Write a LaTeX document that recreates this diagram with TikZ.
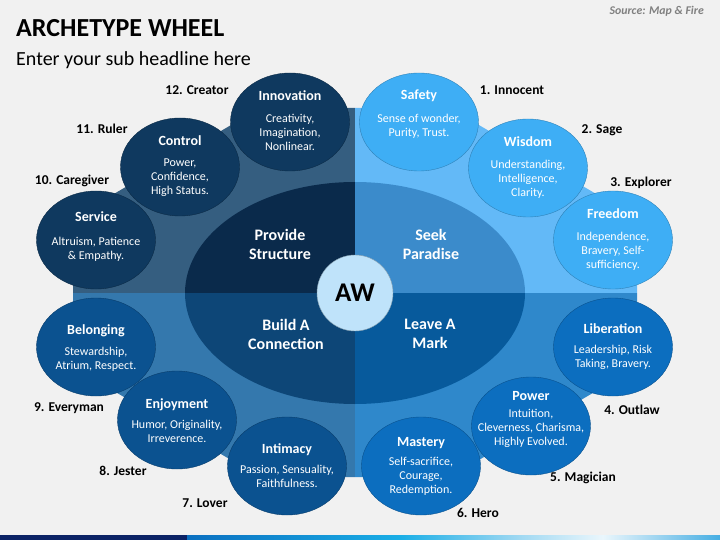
\documentclass[tikz,border=0pt]{standalone}
\usepackage{fontspec}
\setmainfont{Carlito}
\usepackage{tikz}
\usetikzlibrary{shapes.geometric}
\definecolor{pagebg}{HTML}{F1F1F1}
\definecolor{bgTL}{HTML}{355E80}
\definecolor{bgTR}{HTML}{63B9F7}
\definecolor{bgBL}{HTML}{3478AD}
\definecolor{bgBR}{HTML}{2F88CB}
\definecolor{inTL}{HTML}{0A2A4B}
\definecolor{inTR}{HTML}{3B8BCB}
\definecolor{inBL}{HTML}{0D4677}
\definecolor{inBR}{HTML}{075A9C}
\definecolor{cTL}{HTML}{0F395F}
\definecolor{cTR}{HTML}{3EAEF5}
\definecolor{cBL}{HTML}{0B5290}
\definecolor{cBR}{HTML}{0C6EBF}
\definecolor{hub}{HTML}{BFE3FA}
\definecolor{barnavy}{HTML}{0B2265}
\definecolor{barA}{HTML}{0A6FC0}
\definecolor{barB}{HTML}{1AAEE6}
\definecolor{barC}{HTML}{9ED8F2}
\definecolor{barD}{HTML}{EAF6FC}
\definecolor{barE}{HTML}{46AEE3}
\pgfdeclarehorizontalshading{barshade}{100bp}{color(0bp)=(barA); color(25bp)=(barA); color(45bp)=(barB); color(56bp)=(barC); color(64bp)=(barD); color(75bp)=(barE); color(100bp)=(barE)}
\tikzset{
	bubble/.style={ellipse, minimum width=119pt, minimum height=98pt, inner sep=0pt, fill=#1, draw=#1!75!black, line width=0.4pt},
	bubtext/.style={text=white, align=center, font=\fontsize{12}{14}\selectfont, inner sep=0pt, anchor=north, yshift=32pt},
	numlabel/.style={font=\fontsize{13.5}{16}\selectfont\bfseries, text=black, inner sep=0pt},
	quadlabel/.style={text=white, align=center, font=\fontsize{16}{19}\selectfont\bfseries, inner sep=0pt}
}
\newcommand{\bubhead}{\fontsize{14}{16}\selectfont\bfseries}

\begin{document}
\begin{tikzpicture}[x=1pt,y=-1pt]
	\fill[pagebg] (0,0) rectangle (720,540);
	\fill[barnavy] (0,535) rectangle (187,540);
	\shade[shading=barshade] (187,535) rectangle (720,540);

	\node[anchor=base west, inner sep=0pt, font=\fontsize{26}{30}\selectfont\bfseries] (title) at (16,37) {ARCHETYPE WHEEL};
	\node[anchor=base west, inner sep=0pt, font=\fontsize{20}{23}\selectfont] (subtitle) at (16,66) {Enter your sub headline here};
	\node[anchor=base east, inner sep=0pt, text=gray, font=\fontsize{11.8}{13}\selectfont\bfseries\itshape] (source) at (704,15) {Source: Map \& Fire};

	\begin{scope}
		\clip (260,108) -- (450,108) -- (637,218) -- (637,367) -- (450,477) -- (260,477) -- (73,367) -- (73,218) -- cycle;
		\fill[bgTL] (60,100) rectangle (355,293);
		\fill[bgTR] (355,100) rectangle (650,293);
		\fill[bgBL] (60,293) rectangle (355,490);
		\fill[bgBR] (355,293) rectangle (650,490);
	\end{scope}
	\begin{scope}
		\clip (355,293) ellipse [x radius=170, y radius=111];
		\fill[inTL] (180,180) rectangle (355,293);
		\fill[inTR] (355,180) rectangle (530,293);
		\fill[inBL] (180,293) rectangle (355,410);
		\fill[inBR] (355,293) rectangle (530,410);
	\end{scope}

	\node[quadlabel] (structure) at (280,244) {Provide\\Structure};
	\node[quadlabel] (paradise) at (431,244) {Seek\\Paradise};
	\node[quadlabel] (connection) at (286,334) {Build A\\Connection};
	\node[quadlabel] (mark) at (430,334) {Leave A\\Mark};

	\node[circle, minimum size=76pt, inner sep=0pt, fill=hub, draw=hub!70!black, line width=0.4pt, font=\fontsize{27}{30}\selectfont\bfseries] (hub) at (355,293) {AW};

	\node[bubble=cTL] (innovation) at (290,122) {};
	\node[bubble=cTL] (control) at (180,167) {};
	\node[bubble=cTL] (service) at (96,240) {};
	\node[bubble=cBL] (belonging) at (96,347) {};
	\node[bubble=cBL] (enjoyment) at (177,420) {};
	\node[bubble=cBL] (intimacy) at (287,466) {};
	\node[bubble=cBR] (mastery) at (421,466) {};
	\node[bubble=cBR] (power) at (531,426) {};
	\node[bubble=cBR] (liberation) at (613,347) {};
	\node[bubble=cTR] (freedom) at (613,240) {};
	\node[bubble=cTR] (wisdom) at (528,168) {};
	\node[bubble=cTR] (safety) at (419,122) {};

	\node[bubtext] (innovationtxt) at (innovation) {{\bubhead Innovation}\\[8pt]Creativity,\\Imagination,\\Nonlinear.};
	\node[bubtext] (controltxt) at (control) {{\bubhead Control}\\[7pt]Power,\\Confidence,\\High Status.};
	\node[bubtext, yshift=-3.5pt] (servicetxt) at (service) {{\bubhead Service}\\[10pt]Altruism, Patience\\\& Empathy.};
	\node[bubtext, yshift=-9.5pt] (belongingtxt) at (belonging) {{\bubhead Belonging}\\[7pt]Stewardship,\\Atrium, Respect.};
	\node[bubtext, yshift=-10.5pt] (enjoymenttxt) at (enjoyment) {{\bubhead Enjoyment}\\[6pt]Humor, Originality,\\Irreverence.};
	\node[bubtext, yshift=-9.5pt] (intimacytxt) at (intimacy) {{\bubhead Intimacy}\\[6pt]Passion, Sensuality,\\Faithfulness.};
	\node[bubtext, yshift=-3.5pt] (masterytxt) at (mastery) {{\bubhead Mastery}\\[5pt]Self-sacrifice,\\Courage,\\Redemption.};
	\node[bubtext, yshift=2.5pt] (powertxt) at (power) {{\bubhead Power}\\[3pt]Intuition,\\Cleverness, Charisma,\\Highly Evolved.};
	\node[bubtext, yshift=-8.5pt] (liberationtxt) at (liberation) {{\bubhead Liberation}\\[6pt]Leadership, Risk\\Taking, Bravery.};
	\node[bubtext] (freedomtxt) at (freedom) {{\bubhead Freedom}\\[8pt]Independence,\\Bravery, Self-\\sufficiency.};
	\node[bubtext] (wisdomtxt) at (wisdom) {{\bubhead Wisdom}\\[8pt]Understanding,\\Intelligence,\\Clarity.};
	\node[bubtext] (safetytxt) at (safety) {{\bubhead Safety}\\[9pt]Sense of wonder,\\Purity, Trust.};

	\node[numlabel] (n1) at (512,90) {1. Innocent};
	\node[numlabel] (n2) at (602,130) {2. Sage};
	\node[numlabel] (n3) at (641,183) {3. Explorer};
	\node[numlabel] (n4) at (632,410) {4. Outlaw};
	\node[numlabel] (n5) at (583,478) {5. Magician};
	\node[numlabel] (n6) at (478,513) {6. Hero};
	\node[numlabel] (n7) at (205,503) {7. Lover};
	\node[numlabel] (n8) at (123,471) {8. Jester};
	\node[numlabel] (n9) at (69,408) {9. Everyman};
	\node[numlabel] (n10) at (72,181) {10. Caregiver};
	\node[numlabel] (n11) at (102,129) {11. Ruler};
	\node[numlabel] (n12) at (197,90) {12. Creator};
\end{tikzpicture}
\end{document}
